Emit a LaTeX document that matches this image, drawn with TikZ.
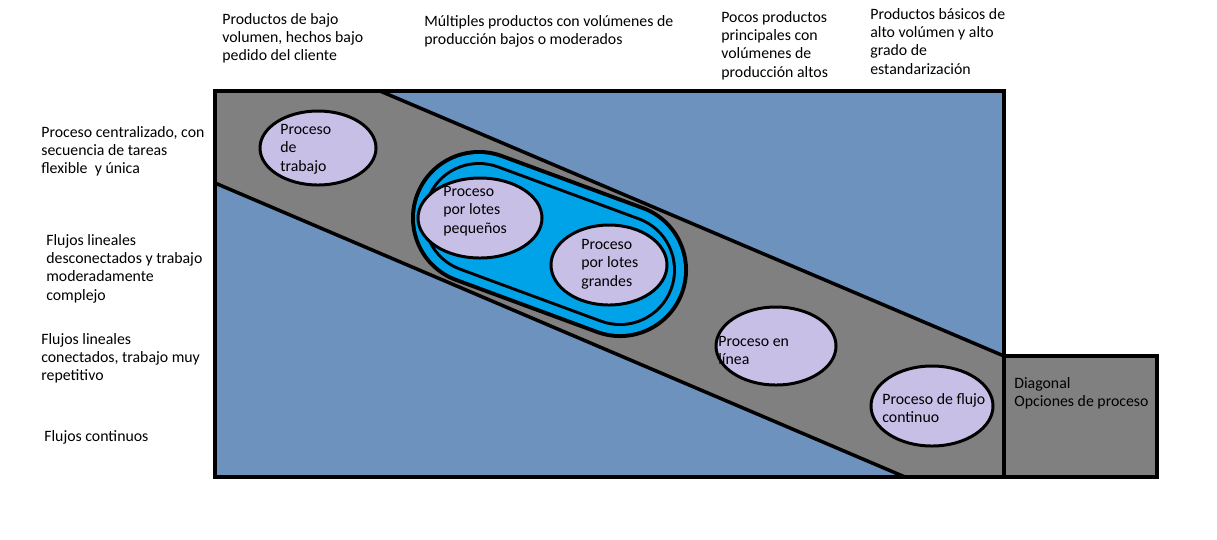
\documentclass[tikz,border=0pt]{standalone}
\usepackage{fontspec}
\setmainfont{Carlito}
\begin{document}
\begin{tikzpicture}[x=0.02cm,y=-0.02cm,
  txt/.style={anchor=north west,inner sep=0pt,align=left,font=\fontsize{9}{10.4}\selectfont},
  ]
\definecolor{bluebg}{RGB}{110,146,190}
\definecolor{grayband}{RGB}{128,128,128}
\definecolor{cyanc}{RGB}{0,162,232}
\definecolor{lav}{RGB}{200,191,231}
\useasboundingbox (0,0) rectangle (1217,539);
% background blue
\fill[bluebg] (215,91) rectangle (1004,477);
% gray band
\fill[grayband] (215,91) -- (380,91) -- (1004,356) -- (1004,477) -- (905,477) -- (215,183) -- cycle;
\draw[line width=2pt] (380,91) -- (1004,356);
\draw[line width=2pt] (215,183) -- (905,477);
\draw[line width=2.3pt] (215,91) rectangle (1004,477);
% side box
\fill[grayband] (1004,356) rectangle (1157,477);
\draw[line width=2.3pt] (1004,356) rectangle (1157,477);
% capsule
\draw[line width=2.72cm,line cap=round] (479,218) -- (620,270);
\draw[cyanc,line width=2.56cm,line cap=round] (479,218) -- (620,270);
\draw[line width=2.24cm,line cap=round] (479,218) -- (620,270);
\draw[cyanc,line width=2.12cm,line cap=round] (479,218) -- (620,270);
% ellipses
\draw[line width=1.7pt,fill=lav] (318,148) ellipse [x radius=58,y radius=37];
\draw[line width=1.7pt,fill=lav] (480,218) ellipse [x radius=62,y radius=40];
\draw[line width=1.7pt,fill=lav] (609,265) ellipse [x radius=58,y radius=40];
\draw[line width=1.7pt,fill=lav] (776,346) ellipse [x radius=60,y radius=39];
\draw[line width=1.7pt,fill=lav] (932,406) ellipse [x radius=61,y radius=40];
\node[txt] (p1) at (280,124) {Proceso\\de\\trabajo};
\node[txt] (p2) at (443,186) {Proceso\\por lotes\\pequeños};
\node[txt] (p3) at (581,239) {Proceso\\por lotes\\grandes};
\node[txt] (p4) at (718,336) {Proceso en\\línea};
\node[txt] (p5) at (882,393) {Proceso de flujo\\continuo};
% top texts
\node[txt] (t1) at (222,13) {Productos de bajo\\volumen, hechos bajo\\pedido del cliente};
\node[txt] (t2) at (424,15) {Múltiples productos con volúmenes de\\producción bajos o moderados};
\node[txt] (t3) at (721,11) {Pocos productos\\principales con\\volúmenes de\\producción altos};
\node[txt] (t4) at (870,8) {Productos básicos de\\alto volúmen y alto\\grado de\\estandarización};
% left texts
\node[txt] (l1) at (41,126) {Proceso centralizado, con\\secuencia de tareas\\flexible \ y única};
\node[txt] (l2) at (46,234) {Flujos lineales\\desconectados y trabajo\\moderadamente\\complejo};
\node[txt] (l3) at (41,333) {Flujos lineales\\conectados, trabajo muy\\repetitivo};
\node[txt] (l4) at (44,430) {Flujos continuos};
\node[txt] (s1) at (1014,377) {Diagonal\\Opciones de proceso};
\end{tikzpicture}
\end{document}
